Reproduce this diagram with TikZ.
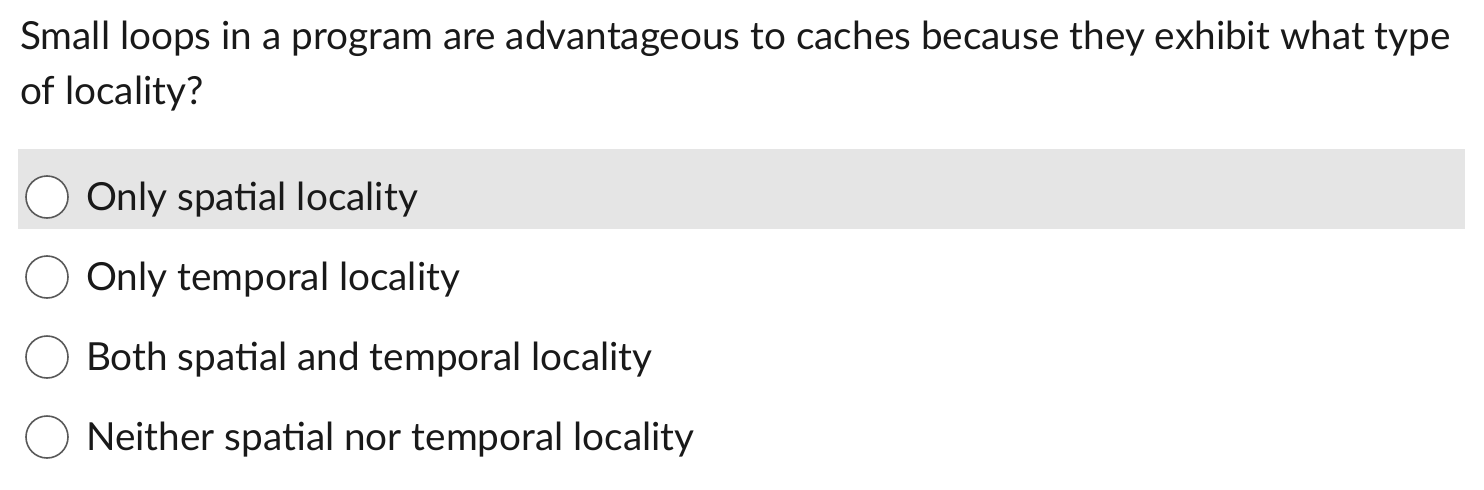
\documentclass[tikz,border=0pt]{standalone}
\usepackage{fontspec}
\setmainfont{Lato}
\begin{document}
\begin{tikzpicture}[x=1pt,y=-1pt,
  q/.style={anchor=base west,inner sep=0pt,font=\fontsize{38.7}{46}\selectfont,text=black!90},
  radio/.style={circle,draw=black!65,line width=1.6pt,fill=white,minimum size=42pt,inner sep=0pt},
  opt/.style={anchor=west,inner sep=0pt,font=\fontsize{38.7}{46}\selectfont,text=black!90}]
\useasboundingbox (0,0) rectangle (1484,490);
\fill[black!10] (18,149) rectangle (1465,229);
\node[q] (l1) at (20,49) {Small loops in a program are advantageous to caches because they exhibit what type};
\node[q] (l2) at (20,104) {of locality?};
\node[radio] (r1) at (47,197) {};
\node[radio] (r2) at (47,277) {};
\node[radio] (r3) at (47,357) {};
\node[radio] (r4) at (47,437) {};
\node[opt] (o1) at (86,200) {Only spatial locality};
\node[opt] (o2) at (86,280) {Only temporal locality};
\node[opt] (o3) at (86,360) {Both spatial and temporal locality};
\node[opt] (o4) at (86,440) {Neither spatial nor temporal locality};
\end{tikzpicture}
\end{document}
